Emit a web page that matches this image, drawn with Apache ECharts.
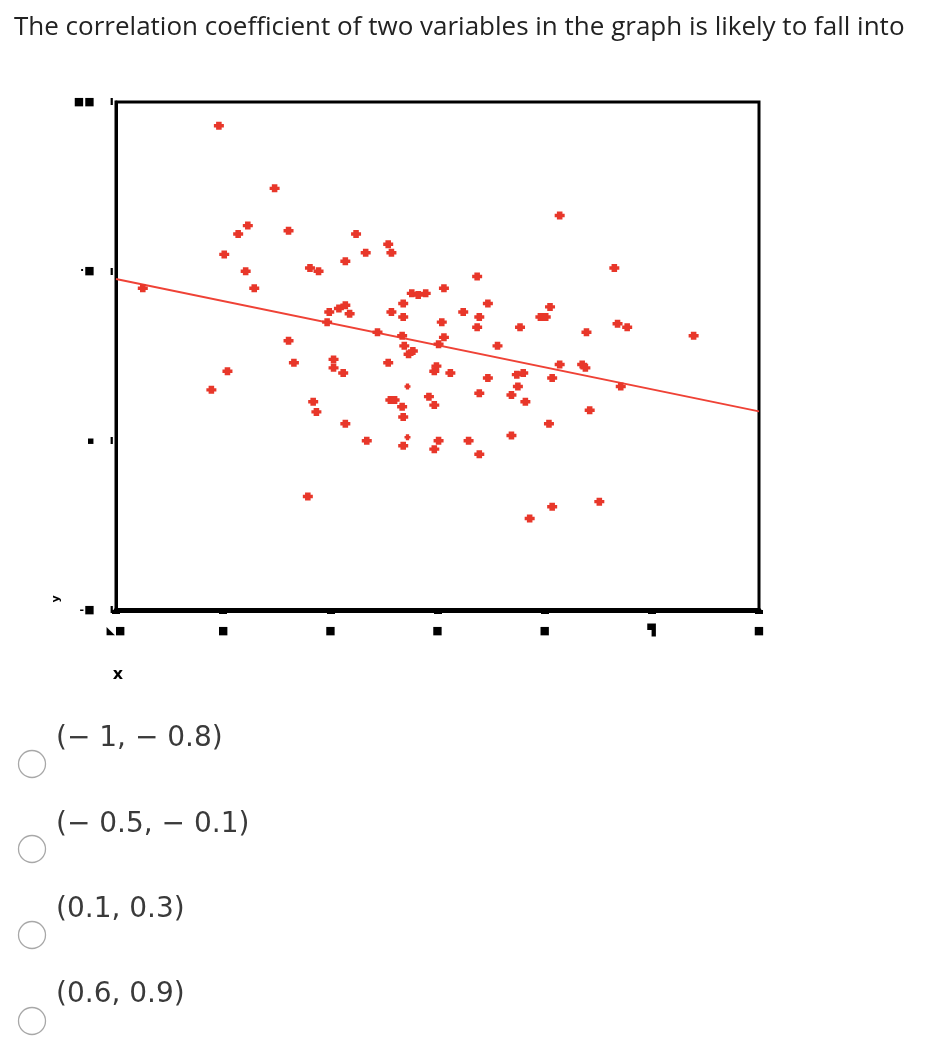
<!DOCTYPE html>
<html>
<head>
<meta charset="utf-8">
<script src="https://cdn.jsdelivr.net/npm/echarts@6/dist/echarts.min.js"></script>
<style>
html,body{margin:0;padding:0;background:#fff;}
#chart{width:930px;height:1038px;}
</style>
</head>
<body>
<div id="chart"></div>
<script>
// ---- data ----
const titleText = 'The correlation coefficient of two variables in the graph is likely to fall into';
const answerOptions = ['(− 1, − 0.8)', '(− 0.5, − 0.1)', '(0.1, 0.3)', '(0.6, 0.9)'];

const xTickLabels = ['◣■', '■', '■', '■', '■', '▜', '■'];
const yTickLabels = ['-■', '▪', '·■', '■■'];

const xVals = [0.96,1.48,4.14,1.23,1.14,1.61,2.24,2.54,2.57,2.33,1.01,2.14,4.65,1.21,1.81,1.89,3.37,1.29,0.25,3.06,
  2.76,2.82,2.89,2.68,3.47,2.57,2.68,3.24,3.39,4.05,3.96,4.01,3.04,3.37,3.77,4.39,4.68,4.77,5.39,1.99,
  2.08,2.14,2.18,1.97,2.44,2.67,2.69,2.73,2.77,3.01,3.06,3.56,1.61,1.66,2.03,2.03,2.12,2.54,1.04,0.89,
  2.99,2.97,3.12,3.47,3.74,3.80,4.07,4.14,4.35,4.38,4.71,2.56,2.60,2.92,2.97,3.39,3.69,3.75,3.82,2.67,
  2.68,4.42,1.84,1.87,2.14,4.04,2.34,2.68,3.01,2.97,3.29,3.39,3.69,1.79,4.51,4.07,3.86];
const yVals = [2.86,2.49,2.33,2.27,2.22,2.24,2.22,2.16,2.11,2.11,2.10,2.06,2.02,2.00,2.02,2.00,1.97,1.90,1.90,1.90,
  1.87,1.86,1.87,1.81,1.81,1.76,1.73,1.76,1.73,1.79,1.73,1.73,1.70,1.67,1.67,1.64,1.69,1.67,1.62,1.76,
  1.78,1.80,1.75,1.70,1.64,1.62,1.56,1.51,1.53,1.57,1.61,1.56,1.59,1.46,1.48,1.43,1.40,1.46,1.41,1.30,
  1.44,1.41,1.40,1.37,1.39,1.40,1.37,1.45,1.45,1.43,1.32,1.24,1.24,1.26,1.21,1.28,1.27,1.32,1.23,1.20,
  1.14,1.18,1.23,1.17,1.10,1.10,1.00,0.97,1.00,0.95,1.00,0.92,1.03,0.67,0.64,0.61,0.54];
const smallX = [2.72, 2.72];
const smallY = [1.32, 1.02];

const lineX = [0, 6];
const lineY = [1.955, 1.173];

// ---- build ----
const RED = '#e8372a';
const crossPath = 'path://M0,2 L2,2 L2,0 L7,0 L7,2 L9,2 L9,5 L7,5 L7,7 L2,7 L2,5 L0,5 Z';
const mainPts = xVals.map((x, i) => [x, yVals[i]]);
const smallPts = smallX.map((x, i) => [x, smallY[i]]);
const linePts = lineX.map((x, i) => [x, lineY[i]]);

const graphics = [
  { type: 'text', left: 14, top: 15, style: { text: titleText, font: '26px "Open Sans"', fill: '#222' } }
];
const optTop = [725, 811, 896, 981];
const circleY = [764, 849, 935, 1021];
answerOptions.forEach((t, i) => {
  graphics.push({ type: 'circle', shape: { cx: 32, cy: circleY[i], r: 13.5 },
    style: { fill: '#fff', stroke: '#a8a8a8', lineWidth: 1.3 } });
  graphics.push({ type: 'text', left: 56, top: optTop[i],
    style: { text: t, font: '28px "DejaVu Sans"', fill: '#3a3a3a' } });
});
graphics.push({ type: 'text', x: 118, y: 675, style: { text: 'x', font: 'bold 16px "DejaVu Sans"', fill: '#000', align: 'center', verticalAlign: 'middle' } });
graphics.push({ type: 'text', x: 56, y: 599, rotation: Math.PI / 2, style: { text: 'y', font: 'bold 11px "DejaVu Sans"', fill: '#000', align: 'center', verticalAlign: 'middle' } });

const chart = echarts.init(document.getElementById('chart'), null, { renderer: 'canvas' });
chart.setOption({
  animation: false,
  backgroundColor: '#fff',
  grid: { left: 116, top: 102, width: 643, height: 508, show: true, borderColor: '#000', borderWidth: 3, containLabel: false },
  xAxis: {
    type: 'value', min: 0, max: 6, interval: 1,
    splitLine: { show: false },
    axisLine: { lineStyle: { color: '#000', width: 5 } },
    axisTick: { show: true, length: 4, lineStyle: { color: '#000', width: 8 } },
    axisLabel: { margin: 16, fontFamily: 'DejaVu Sans', fontSize: 11, fontWeight: 'bold', color: '#000',
      formatter: v => xTickLabels[Math.round(v)] || '' }
  },
  yAxis: {
    type: 'value', min: 0, max: 3, interval: 1,
    splitLine: { show: false },
    axisLine: { lineStyle: { color: '#000', width: 3 } },
    axisTick: { show: false },
    axisLabel: { margin: 2, color: '#000',
      formatter: v => '{a|' + (yTickLabels[Math.round(v)] || '') + '}{g|}{t|ı}',
      rich: {
        a: { fontFamily: 'DejaVu Sans', fontSize: 11, fontWeight: 'bold', color: '#000' },
        g: { width: 15 },
        t: { fontFamily: 'DejaVu Sans', fontSize: 13, fontWeight: 'bold', color: '#000' }
      } }
  },
  series: [
    { type: 'line', data: linePts, showSymbol: false, symbol: 'none', lineStyle: { color: '#ef4236', width: 2 }, z: 2 },
    { type: 'scatter', data: mainPts, symbol: crossPath, symbolSize: [10, 8], itemStyle: { color: RED, opacity: 1 }, z: 3 },
    { type: 'scatter', data: smallPts, symbol: crossPath, symbolSize: [6, 6], itemStyle: { color: RED, opacity: 1 }, z: 3 }
  ],
  graphic: graphics
});
</script>
</body>
</html>
